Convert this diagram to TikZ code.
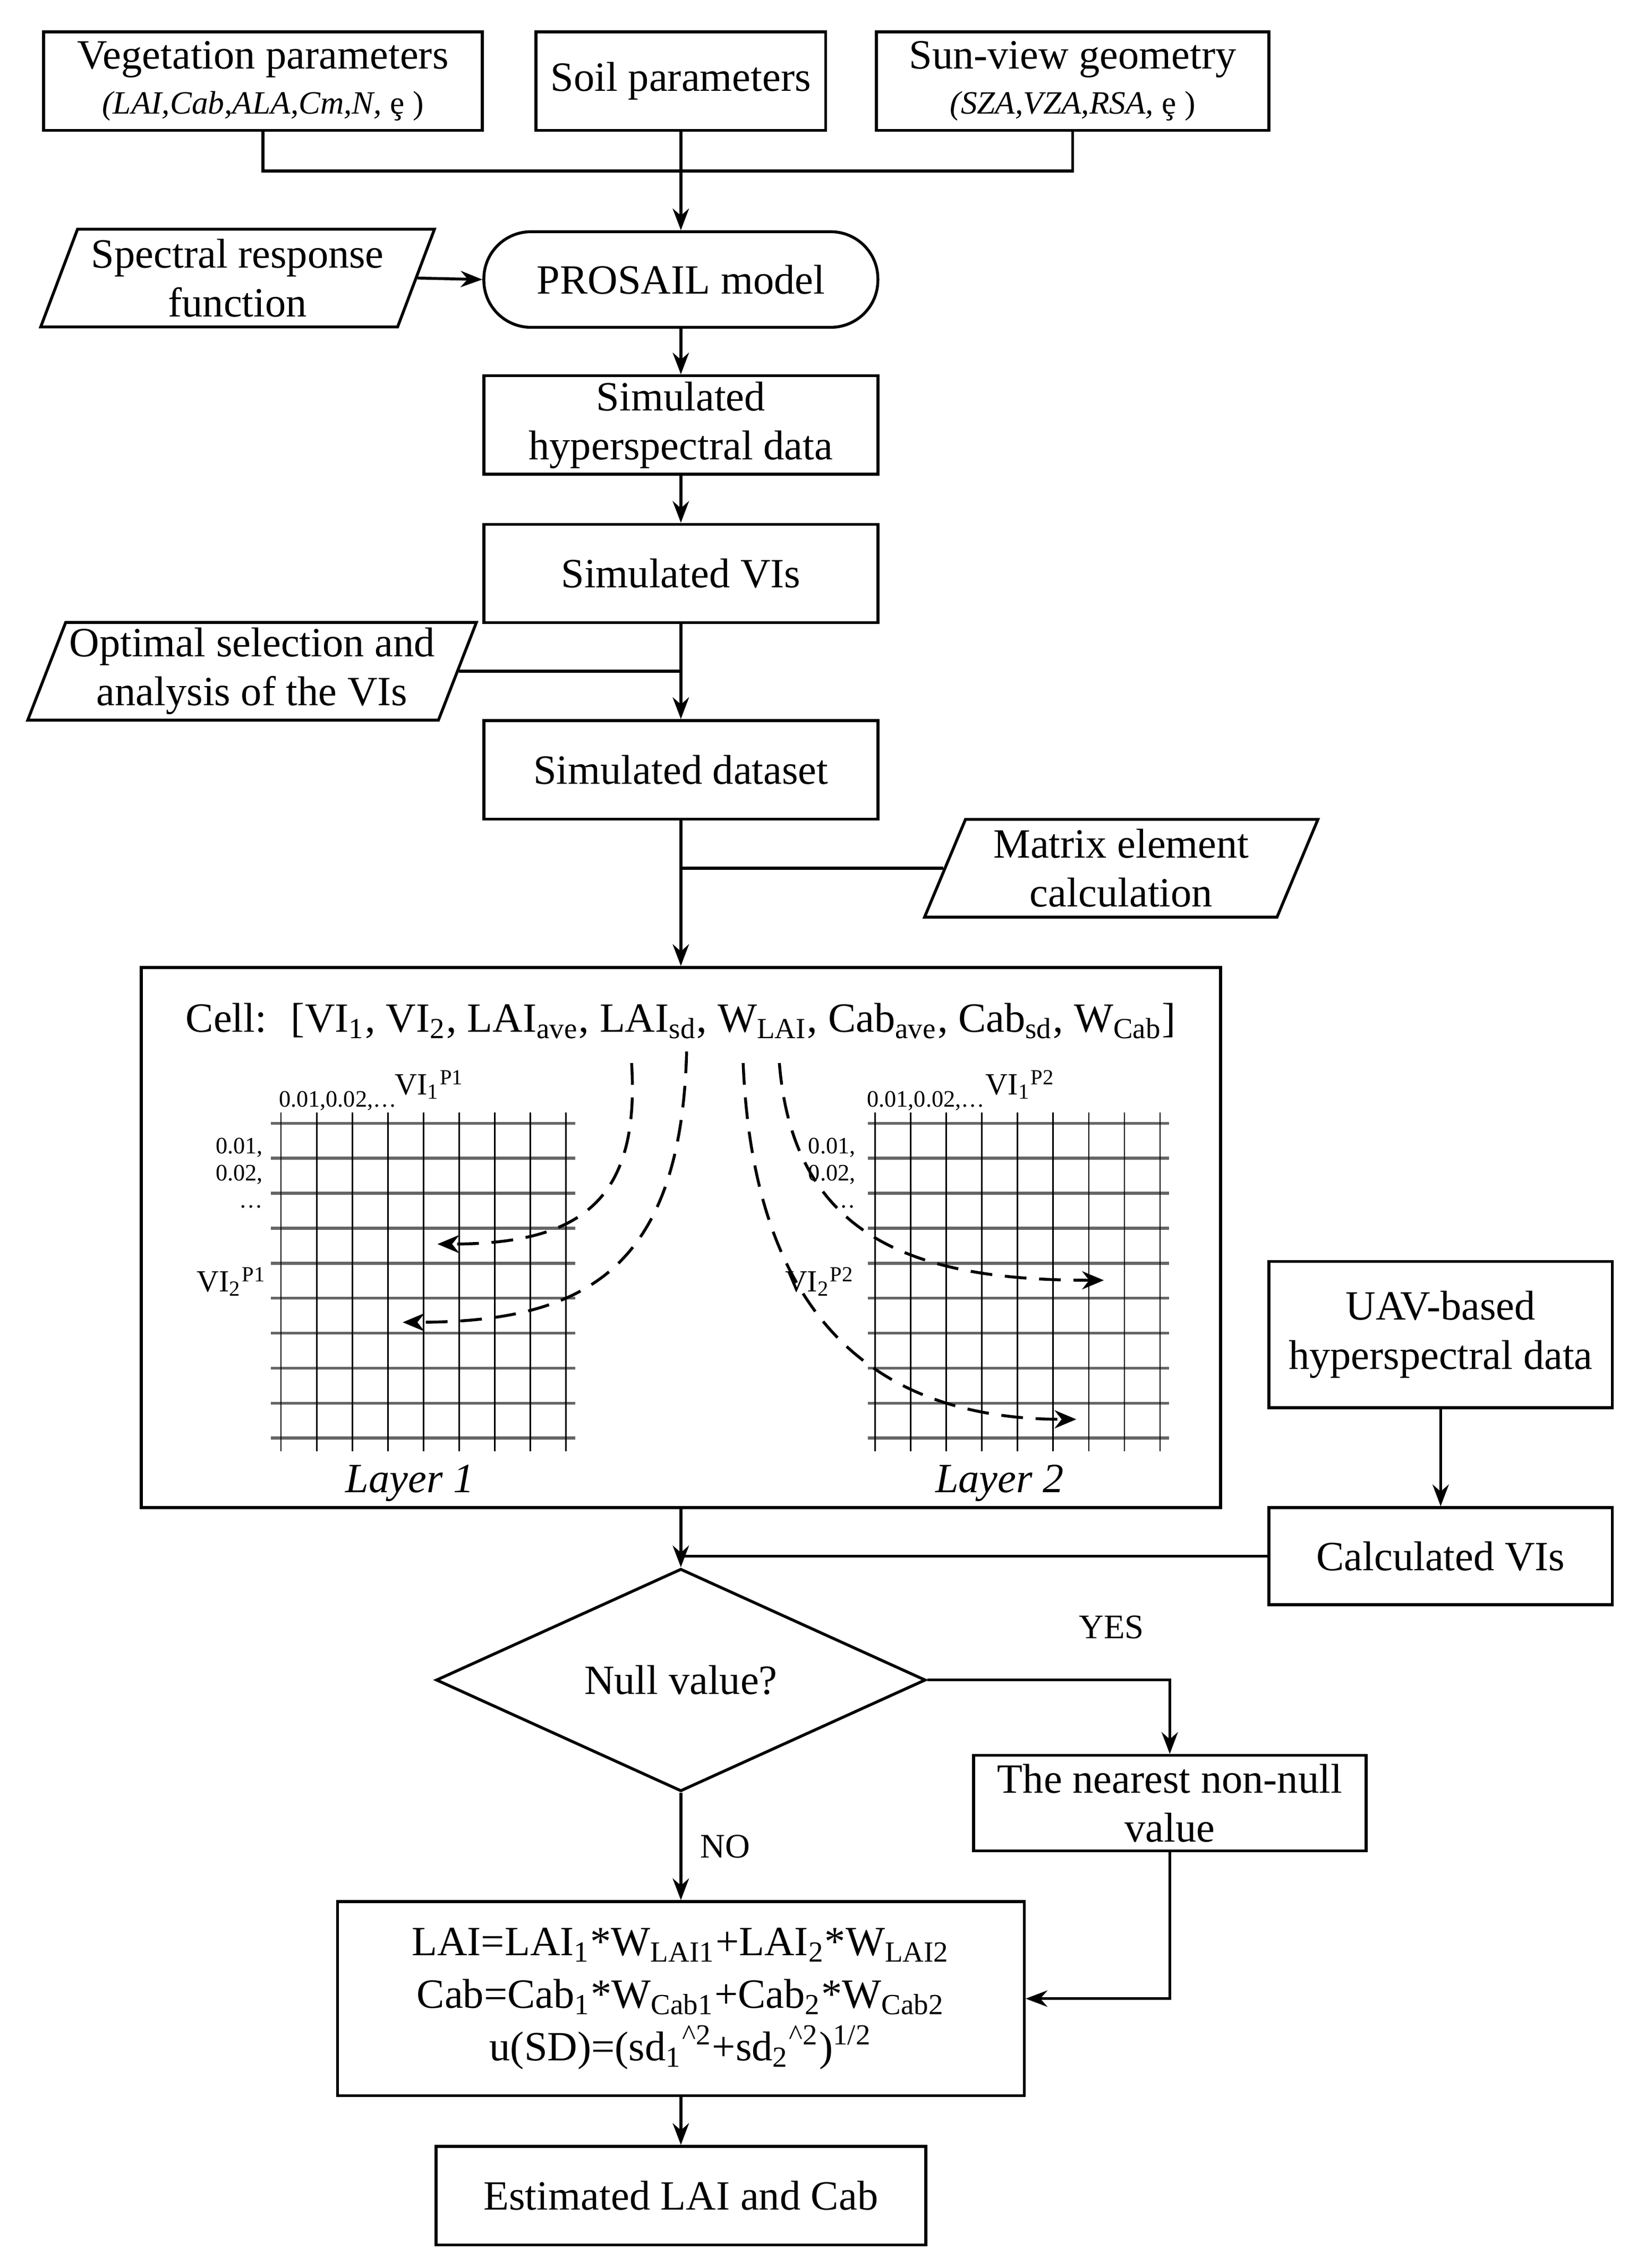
\documentclass[tikz,border=0pt]{standalone}
\usepackage{fontspec}
\setmainfont{Liberation Serif}
\usetikzlibrary{arrows.meta, shapes.geometric}
\begin{document}
\begin{tikzpicture}[x=0.4pt, y=-0.4pt,
  every node/.style={font=\fontsize{11.5}{13.5}\selectfont, align=center, inner sep=1pt},
  box/.style={draw, thick, minimum width=#1, minimum height=27.2pt},
  para/.style={draw, thick, trapezium, trapezium left angle=68, trapezium right angle=112,
    trapezium stretches=true, minimum width=#1, minimum height=27pt},
  line/.style={thick},
  arr/.style={thick, -{Stealth[length=6pt, width=4.5pt]}},
  dasharr/.style={thick, dash pattern=on 6pt off 3.5pt, -{Stealth[length=6pt, width=5pt]}},
  hline/.style={gray!80!black, thick},
  vline/.style={black, thin},
  small/.style={font=\fontsize{6.5}{7.5}\selectfont, inner sep=0pt},
  mid/.style={font=\fontsize{8.5}{9.5}\selectfont, inner sep=0pt}]
\useasboundingbox (0,0) rectangle (1130,1566);

% top inputs
\node[box=121.2pt] (veg) at (181.5,56) {Vegetation parameters\\[-1pt]{\small\itshape (LAI,Cab,ALA,Cm,N, \upshape ȩ )}};
\node[box=80pt] (soil) at (470,56) {Soil parameters};
\node[box=108.4pt] (sun) at (740.5,56) {Sun-view geometry\\[-1pt]{\small\itshape (SZA,VZA,RSA, \upshape ȩ )}};
\coordinate (m) at (470,118);

\node[draw, thick, rounded corners=13pt, minimum width=108.8pt, minimum height=26.4pt] (pro) at (470,193) {PROSAIL model};
\node[para=108.8pt] (spec) at (164,192) {Spectral response\\function};
\node[box=108.8pt] (hyp) at (470,293.5) {Simulated\\hyperspectral data};
\node[box=108.8pt] (vis) at (470,396) {Simulated VIs};
\node[para=116.8pt] (opt) at (174,463.5) {Optimal selection and\\analysis of the VIs};
\node[box=108.8pt] (dat) at (470,531.5) {Simulated dataset};
\node[para=108.8pt] (mat) at (774,599.5) {Matrix element\\calculation};

% cell matrix box
\node[draw, thick, minimum width=298pt, minimum height=149.2pt] (big) at (470,854.5) {};
\node (cell) at (470,705) {Cell:~ [VI\textsubscript{1}, VI\textsubscript{2}, LAI\textsubscript{ave}, LAI\textsubscript{sd}, W\textsubscript{LAI}, Cab\textsubscript{ave}, Cab\textsubscript{sd}, W\textsubscript{Cab}]};

% layer 1 grid
\foreach \j in {0,...,9} \draw[hline] (187,775.6+24.15*\j) -- (397,775.6+24.15*\j);
\foreach \i in {0,...,8} \draw[vline] (194+24.6*\i,768) -- (194+24.6*\i,1002);
% layer 2 grid
\foreach \j in {0,...,9} \draw[hline] (599,775.6+24.15*\j) -- (807,775.6+24.15*\j);
\foreach \i in {0,...,8} \draw[vline] (604+24.6*\i,768) -- (604+24.6*\i,1002);

\node[small, anchor=west] (a1) at (192,760) {0.01,0.02,\dots};
\node[mid, anchor=west] (b1) at (272,749) {VI\textsubscript{1}\textsuperscript{P1}};
\node[small, anchor=east, align=right] (c1) at (182,810) {0.01,\\0.02,\\\dots};
\node[mid] (d1) at (160,885) {VI\textsubscript{2}\textsuperscript{P1}};
\node[small, anchor=west] (a2) at (598,760) {0.01,0.02,\dots};
\node[mid, anchor=west] (b2) at (680,749) {VI\textsubscript{1}\textsuperscript{P2}};
\node[small, anchor=east, align=right] (c2) at (591,810) {0.01,\\0.02,\\\dots};
\node[mid] (d2) at (566,885) {VI\textsubscript{2}\textsuperscript{P2}};
\node[font=\fontsize{11.5}{13.5}\selectfont\itshape] (l1) at (283,1024) {Layer 1};
\node[font=\fontsize{11.5}{13.5}\selectfont\itshape] (l2) at (690,1024) {Layer 2};

\draw[dasharr] (436,734) .. controls (442,830) and (400,859) .. (302,859);
\draw[dasharr] (474,726) .. controls (470,880) and (400,913) .. (278,913);
\draw[dasharr] (513,734) .. controls (520,905) and (600,980) .. (743,980);
\draw[dasharr] (538,734) .. controls (548,860) and (640,884) .. (762,884);

% UAV branch
\node[draw, thick, minimum width=94.8pt, minimum height=40.4pt] (uav) at (994.5,921.5) {UAV-based\\hyperspectral data};
\node[draw, thick, minimum width=94.8pt, minimum height=26.8pt] (calc) at (994.5,1074.5) {Calculated VIs};

\node[draw, thick, diamond, inner sep=0pt, minimum width=135.2pt, minimum height=41.6pt] (dia) at (470,1160) {Null value?};
\node[draw, thick, minimum width=108.4pt, minimum height=26.4pt] (near) at (807.5,1245) {The nearest non-null\\value};
\node[draw, thick, minimum width=189.6pt, minimum height=53.6pt, align=center] (lai) at (470,1380)
  {LAI=LAI\textsubscript{1}*W\textsubscript{LAI1}+LAI\textsubscript{2}*W\textsubscript{LAI2}\\[1pt]
   Cab=Cab\textsubscript{1}*W\textsubscript{Cab1}+Cab\textsubscript{2}*W\textsubscript{Cab2}\\[1pt]
   u(SD)=(sd\textsubscript{1}\textsuperscript{\textasciicircum 2}+sd\textsubscript{2}\textsuperscript{\textasciicircum 2})\textsuperscript{1/2}};
\node[box=135.2pt] (est) at (470,1516) {Estimated LAI and Cab};

% connectors
\draw[line] (veg.south) |- (m) -| (sun.south);
\draw[arr] (soil.south) -- (pro.north);
\draw[arr] (spec.east) -- (pro.west);
\draw[arr] (pro.south) -- (hyp.north);
\draw[arr] (hyp.south) -- (vis.north);
\coordinate (j1) at (vis.south |- opt.east);
\draw[line] (opt.east) -- (j1);
\draw[arr] (vis.south) -- (dat.north);
\coordinate (j2) at (dat.south |- mat.west);
\draw[line] (mat.west) -- (j2);
\draw[arr] (dat.south) -- (big.north);
\draw[arr] (uav.south) -- (calc.north);
\coordinate (j3) at (big.south |- calc.west);
\draw[line] (calc.west) -- (j3);
\draw[arr] (big.south) -- (dia.north);
\draw[arr] (dia.east) -| (near.north) node[pos=0.38, above=10pt, font=\fontsize{9.5}{11}\selectfont] (yes) {YES};
\draw[arr] (dia.south) -- (lai.north) node[midway, right=4pt, font=\fontsize{9.5}{11}\selectfont] (no) {NO};
\draw[arr] (near.south) |- (lai.east);
\draw[arr] (lai.south) -- (est.north);
\end{tikzpicture}
\end{document}
